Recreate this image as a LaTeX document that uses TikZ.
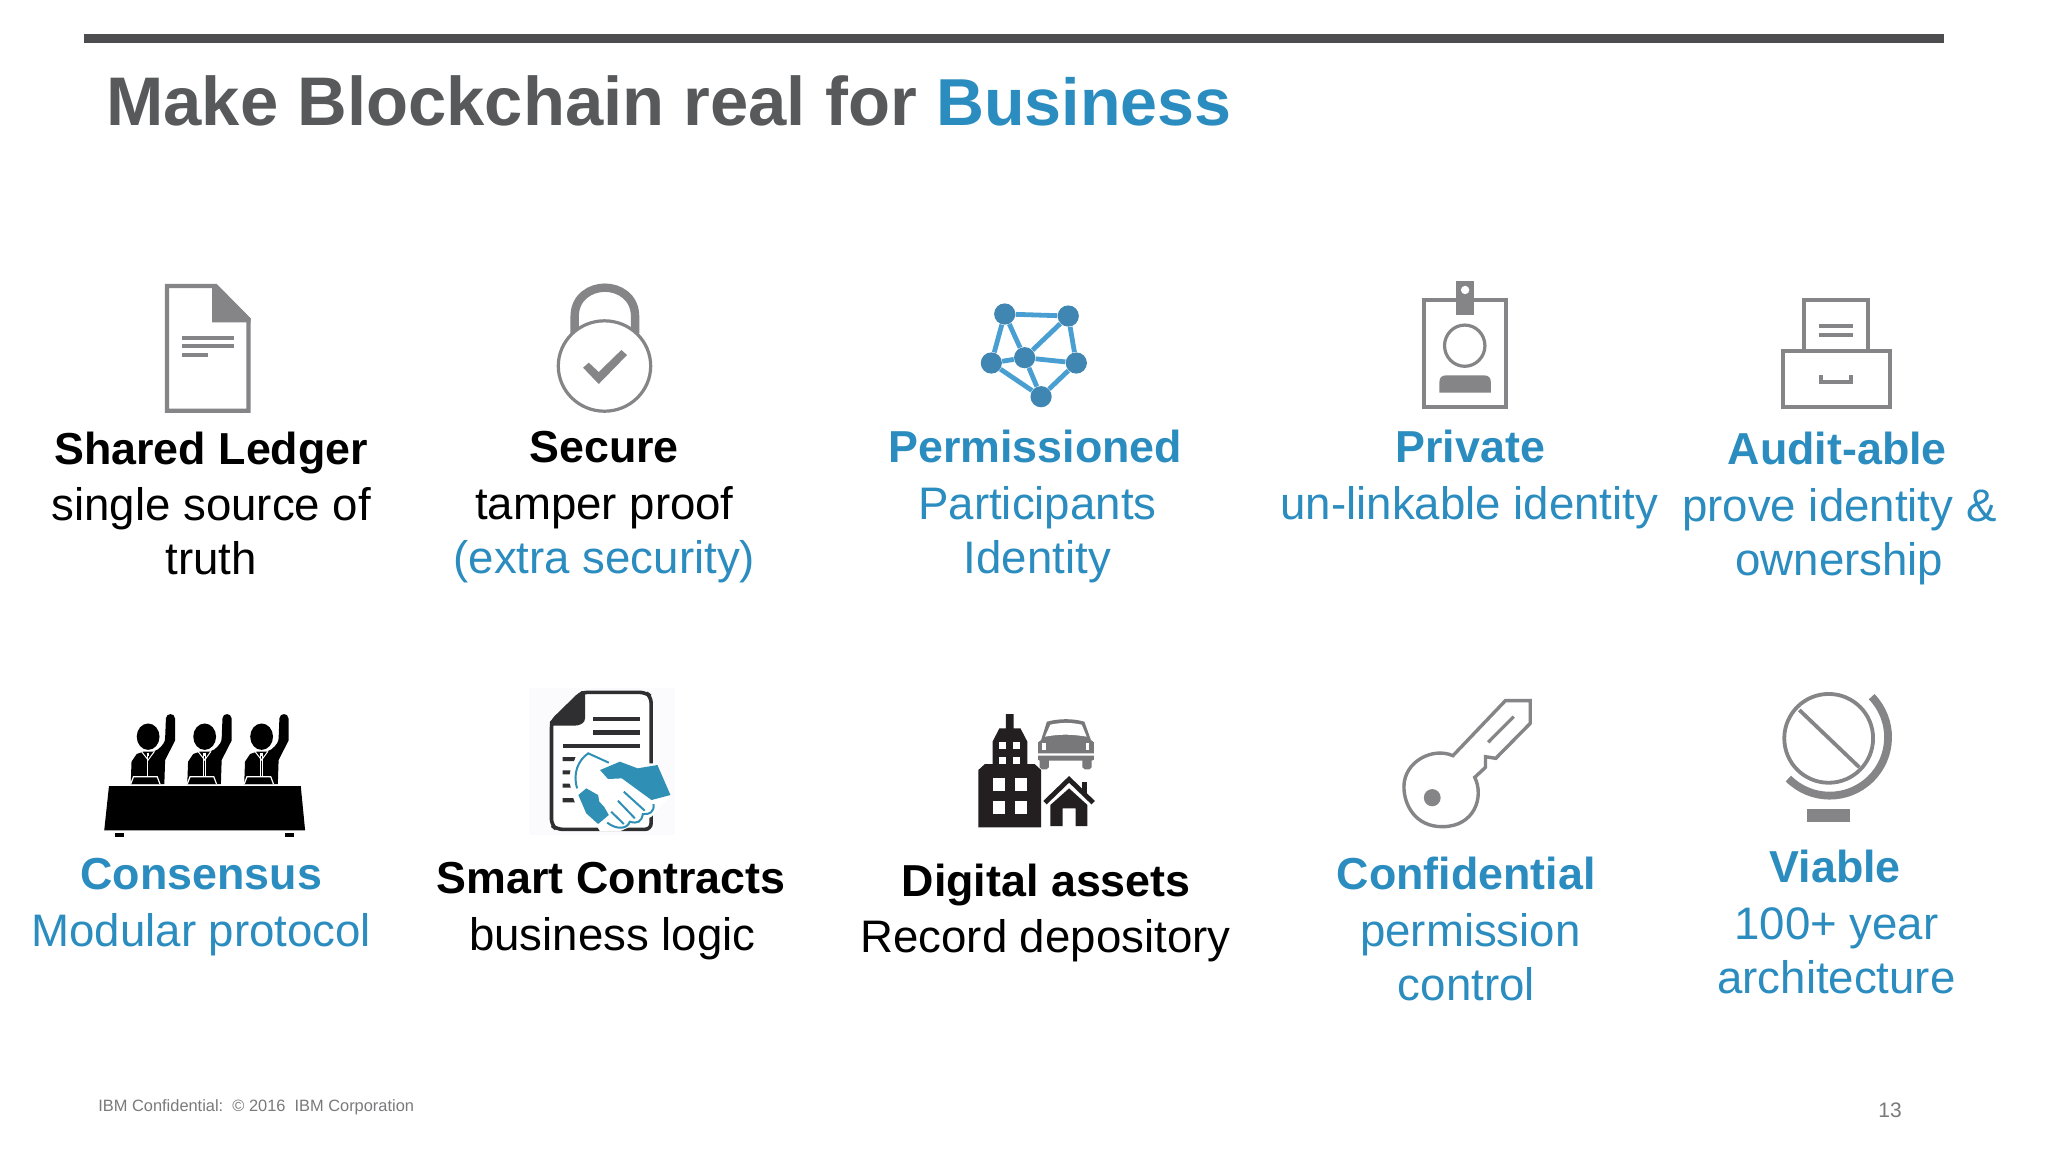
\documentclass[tikz,border=0pt]{standalone}
\usepackage{fontspec}
\setmainfont{Liberation Sans}
\definecolor{ibmblue}{HTML}{2B8CBF}
\definecolor{titlegrey}{HTML}{58595B}
\definecolor{bargrey}{HTML}{4D4D4F}
\definecolor{icongrey}{HTML}{858487}
\definecolor{netlink}{HTML}{4A9FD2}
\definecolor{netnode}{HTML}{3F86B3}
\definecolor{teal}{HTML}{2F8FB5}
\definecolor{dark}{HTML}{2F2E30}
\definecolor{soot}{HTML}{231F20}
\definecolor{footgrey}{HTML}{7A7A7C}
\definecolor{faint}{HTML}{FBFBFD}
\tikzset{
  head/.style={anchor=base,inner sep=0pt,xshift=0.6pt,font=\fontsize{22.4}{24}\selectfont\bfseries},
  body/.style={anchor=base,inner sep=0pt,xshift=0.7pt,yshift=-0.3pt,font=\fontsize{22.8}{24}\selectfont},
  blue/.style={text=ibmblue},
  zoomA/.style={x=0.19135pt,y=-0.16667pt},
  zoomB/.style={x=0.16667pt,y=-0.16667pt},
  zoomC/.style={x=0.19771pt,y=-0.16667pt},
  netdot/.style={circle,fill=netnode,minimum size=10.6pt,inner sep=0pt},
  netedge/.style={draw=netlink,line width=2.4pt},
  ig/.style={draw=icongrey}
}
\begin{document}
\begin{tikzpicture}[x=0.5pt,y=-0.5pt]
\useasboundingbox (0,0) rectangle (2048,1152);
\fill[white] (0,0) rectangle (2048,1152);
% top bar
\fill[bargrey] (84,34) rectangle (1944,43);
% title
\node[anchor=base west,inner sep=0pt,text=titlegrey,font=\fontsize{34.4}{36}\selectfont\bfseries] (title) at (106,125) {Make Blockchain real for \textcolor{ibmblue}{\fontsize{33.2}{36}\selectfont Business}};

% document icon
\begin{scope}[shift={(120,260)},zoomA]
\draw[ig,line width=2.1pt,fill=white,line join=miter] (123,78) -- (250,78) -- (336,178) -- (336,452) -- (123,452) -- cycle;
\fill[icongrey] (252,72) -- (341,175) -- (341,187) -- (241,187) -- (241,72) -- cycle;
\fill[icongrey] (162,227) rectangle (297,240);
\fill[icongrey] (162,252) rectangle (297,265);
\fill[icongrey] (162,278) rectangle (229,291);
\end{scope}

% lock icon
\begin{scope}[shift={(120,260)},zoomA]
\draw[ig,line width=4.2pt] (1188,220) -- (1188,170) .. controls (1188,110) and (1230,83) .. (1267,83) .. controls (1304,83) and (1346,110) .. (1346,170) -- (1346,220);
\draw[ig,line width=1.6pt,fill=white] (1266,318) ellipse [x radius=23.1pt,y radius=22.6pt];
\fill[icongrey] (1210,323) -- (1225,308) -- (1251,336) -- (1310,270) -- (1325,285) -- (1251,372) -- cycle;
\end{scope}

% network icon
\begin{scope}[shift={(950,270)},zoomA]
\node[netdot] (na) at (143,132) {};
\node[netdot] (nb) at (309,138) {};
\node[netdot] (nc) at (108,279) {};
\node[netdot] (nd) at (195,263) {};
\node[netdot] (ne) at (330,279) {};
\node[netdot] (nf) at (238,380) {};
\draw[netedge] (na) -- (nb);
\draw[netedge] (na) -- (nc);
\draw[netedge] (na) -- (nd);
\draw[netedge] (nb) -- (nd);
\draw[netedge] (nb) -- (ne);
\draw[netedge] (nc) -- (nd);
\draw[netedge] (nd) -- (ne);
\draw[netedge] (nd) -- (nf);
\draw[netedge] (nc) -- (nf);
\draw[netedge] (ne) -- (nf);
\end{scope}

% badge icon
\begin{scope}[shift={(950,270)},zoomA]
\draw[ig,line width=2.1pt,fill=white] (1239,91) rectangle (1452,412);
\fill[icongrey] (1323,34) rectangle (1368,136);
\fill[white] (1346,60) ellipse [x radius=2.1pt,y radius=2.1pt];
\draw[ig,line width=1.6pt] (1345,227) ellipse [x radius=10.1pt,y radius=10.3pt];
\fill[icongrey] (1279,368) -- (1279,335) .. controls (1279,322) and (1285,316) .. (1298,316) -- (1394,316) .. controls (1407,316) and (1413,322) .. (1413,335) -- (1413,368) -- cycle;
\end{scope}

% drawer icon
\begin{scope}[shift={(1500,270)},zoomB]
\draw[ig,line width=2pt,fill=white] (911,91) rectangle (1104,244);
\draw[ig,line width=2pt,fill=white] (848,244) rectangle (1169,412);
\fill[icongrey] (956,161) rectangle (1060,174);
\fill[icongrey] (956,188) rectangle (1060,201);
\draw[ig,line width=1.9pt] (962,316) -- (962,336) -- (1054,336) -- (1054,316);
\end{scope}

% consensus icon
\begin{scope}[shift={(90,680)},zoomC]
\foreach \dx in {0,143,287}{
\begin{scope}[shift={(\dx,0)}]
\fill (147,170) ellipse [x radius=5.7pt,y radius=6.6pt];
\fill (103,312) -- (105,245) -- (118,222) -- (135,215) -- (160,215) -- (172,208) .. controls (185,195) and (190,185) .. (190,175) -- (192,115) .. controls (193,98) and (214,98) .. (215,115) -- (215,182) -- (190,240) -- (188,312) -- cycle;
\draw[white,line width=1.3pt] (147,218) -- (147,290);
\draw[black,line width=0.6pt] (147,228) -- (147,288);
\draw[white,line width=0.5pt] (130,214) -- (147,240) -- (163,214);
\draw[white,line width=0.6pt,fill=black] (103,312) -- (110,290) -- (170,290) -- (177,312);
\end{scope}}
\fill (48,318) -- (533,318) -- (544,451) -- (36,451) -- cycle;
\fill (64,458) rectangle (87,471);
\fill (494,458) rectangle (517,471);
\end{scope}

% contract icon
\begin{scope}[shift={(90,680)},zoomC]
\fill[faint] (1110,25) rectangle (1480,465);
\draw[dark,line width=1.8pt,fill=white,rounded corners=3pt] (1243,37) -- (1405,37) -- (1419,50) -- (1419,400) -- (1419,448) -- (1180,448) -- (1167,435) -- (1167,125) -- cycle;
\fill[dark] (1243,33) -- (1252,33) -- (1252,115) .. controls (1252,128) and (1240,137) .. (1225,137) -- (1163,137) -- (1163,125) -- cycle;
\fill[dark] (1273,111) rectangle (1390,124);
\fill[dark] (1273,151) rectangle (1390,164);
\fill[dark] (1195,191) rectangle (1390,204);
\fill[dark] (1195,231) -- (1228,231) -- (1224,243) -- (1195,243) -- cycle;
\fill[dark] (1195,271) -- (1215,271) -- (1213,283) -- (1195,283) -- cycle;
\fill[dark] (1195,311) -- (1213,311) -- (1216,323) -- (1195,323) -- cycle;
\fill[dark] (1195,354) -- (1222,354) -- (1226,367) -- (1195,367) -- cycle;
\fill[white] (1225,300) -- (1260,218) -- (1320,250) -- (1428,250) -- (1470,345) -- (1420,410) -- (1340,454) -- (1290,454) -- (1235,350) -- cycle;
\draw[teal,line width=1pt] (1232,325) .. controls (1220,280) and (1235,240) .. (1260,220) -- (1312,248);
\fill[teal] (1290,270) -- (1340,245) -- (1385,265) -- (1435,255) -- (1468,345) -- (1420,360) -- (1345,295) -- (1310,297) -- cycle;
\fill[teal] (1235,345) -- (1255,325) -- (1270,335) -- (1285,345) -- (1288,365) -- (1300,380) -- (1312,405) -- (1285,432) -- (1255,400) -- cycle;
\draw[teal,line width=1pt] (1350,335) -- (1403,392);
\draw[teal,line width=1pt] (1335,362) -- (1378,415);
\draw[teal,line width=1pt] (1318,395) -- (1350,432);
\draw[teal,line width=1pt] (1425,372) .. controls (1428,395) and (1415,405) .. (1398,402) .. controls (1395,425) and (1385,432) .. (1365,425) .. controls (1360,445) and (1335,452) .. (1308,428);
\end{scope}

% assets icon
\begin{scope}[shift={(960,690)},zoomA]
\fill[soot] (48,412) -- (48,240) -- (65,222) -- (85,222) -- (85,155) -- (103,115) -- (120,115) -- (120,72) -- (140,72) -- (140,115) -- (158,115) -- (176,155) -- (176,222) -- (195,222) -- (212,240) -- (212,412) -- cycle;
\fill[white] (103,157) rectangle (120,178);
\fill[white] (139,157) rectangle (157,178);
\fill[white] (103,200) rectangle (120,221);
\fill[white] (139,200) rectangle (157,221);
\fill[white] (85,265) rectangle (117,303);
\fill[white] (143,265) rectangle (175,303);
\fill[white] (85,333) rectangle (117,371);
\fill[white] (143,333) rectangle (175,371);
% car
\fill[icongrey!90!black] (227,95) .. controls (260,85) and (295,85) .. (325,95) -- (342,150) -- (350,157) -- (350,190) -- (204,190) -- (204,157) -- (212,150) -- cycle;
\fill[white] (236,104) .. controls (265,97) and (290,97) .. (318,104) -- (331,140) .. controls (290,132) and (260,132) .. (222,140) -- cycle;
\fill[white] (215,160) rectangle (225,180);
\fill[white] (328,160) rectangle (338,180);
\fill[icongrey!90!black] (204,197) -- (350,197) -- (350,209) -- (344,212) -- (344,232) -- (338,238) -- (326,238) -- (320,232) -- (320,212) -- (232,212) -- (232,232) -- (226,238) -- (214,238) -- (208,232) -- (208,212) -- (204,209) -- cycle;
% house
\fill[soot] (318,275) rectangle (333,315);
\fill[white] (285,278) -- (340,338) -- (230,338) -- cycle;
\draw[soot,line width=2.4pt] (222,338) -- (285,268) -- (348,338);
\fill[soot] (236,408) -- (236,345) -- (285,295) -- (333,345) -- (333,408) -- (302,408) -- (302,355) -- (268,355) -- (268,408) -- cycle;
\end{scope}

% key icon
\begin{scope}[shift={(960,690)},zoomA]
\draw[ig,line width=1.7pt,line join=miter] (1288,197) -- (1425,32) -- (1490,32) -- (1490,100) -- (1400,205) -- (1373,200) -- (1373,232) -- (1345,262) .. controls (1370,320) and (1345,410) .. (1260,410) .. controls (1190,410) and (1160,345) .. (1160,290) .. controls (1160,215) and (1235,170) .. (1288,197) -- cycle;
\fill[icongrey] (1234,323) ellipse [x radius=4.2pt,y radius=4.3pt];
\draw[ig,line width=1.6pt] (1380,157) -- (1447,80);
\end{scope}

% globe icon
\begin{scope}[shift={(1750,680)},zoomB]
\draw[ig,line width=1.9pt] (236,175) circle [radius=22.2pt];
\draw[ig,line width=1.9pt] (148,90) -- (328,262);
\draw[ig,line width=3.9pt] (365,50) arc [start angle=44,end angle=-135,radius=29.2pt];
\fill[icongrey] (171,388) rectangle (301,427);
\end{scope}

% labels, row 1
\node[head] (a1) at (210,464) {Shared Ledger};
\node[body] (a2) at (210,520) {single source of};
\node[body] (a3) at (210,574) {truth};
\node[head] (b1) at (603,462) {Secure};
\node[body] (b2) at (603,519) {tamper proof};
\node[body,blue] (b3) at (603,573) {(extra security)};
\node[head,blue] (c1) at (1034,462) {Permissioned};
\node[body,blue] (c2) at (1036,519) {Participants};
\node[body,blue] (c3) at (1036,573) {Identity};
\node[head,blue] (d1) at (1469,462) {Private};
\node[body,blue] (d2) at (1468,519) {un-linkable identity};
\node[head,blue] (e1) at (1836,464) {Audit-able};
\node[body,blue] (e2) at (1838,521) {prove identity \&};
\node[body,blue] (e3) at (1838,575) {ownership};
% labels, row 2
\node[head,blue] (f1) at (200,889) {Consensus};
\node[body,blue] (f2) at (200,946) {Modular protocol};
\node[head] (g1) at (610,893) {Smart Contracts};
\node[body] (g2) at (611,950) {business logic};
\node[head] (h1) at (1045,896) {Digital assets};
\node[body] (h2) at (1044,952) {Record depository};
\node[head,blue] (i1) at (1465,889) {Confidential};
\node[body,blue] (i2) at (1469,946) {permission};
\node[body,blue] (i3) at (1465,1000) {control};
\node[head,blue] (j1) at (1834,882) {Viable};
\node[body,blue] (j2) at (1835,939) {100+ year};
\node[body,blue] (j3) at (1835,993) {architecture};
% footer
\node[anchor=base west,inner sep=0pt,text=footgrey,font=\fontsize{8.2}{10}\selectfont] (foot) at (98,1111) {IBM Confidential:\ \ © 2016\ \ IBM Corporation};
\node[anchor=base,inner sep=0pt,text=footgrey,font=\fontsize{10.5}{12}\selectfont] (page) at (1890,1117) {13};
\end{tikzpicture}
\end{document}
